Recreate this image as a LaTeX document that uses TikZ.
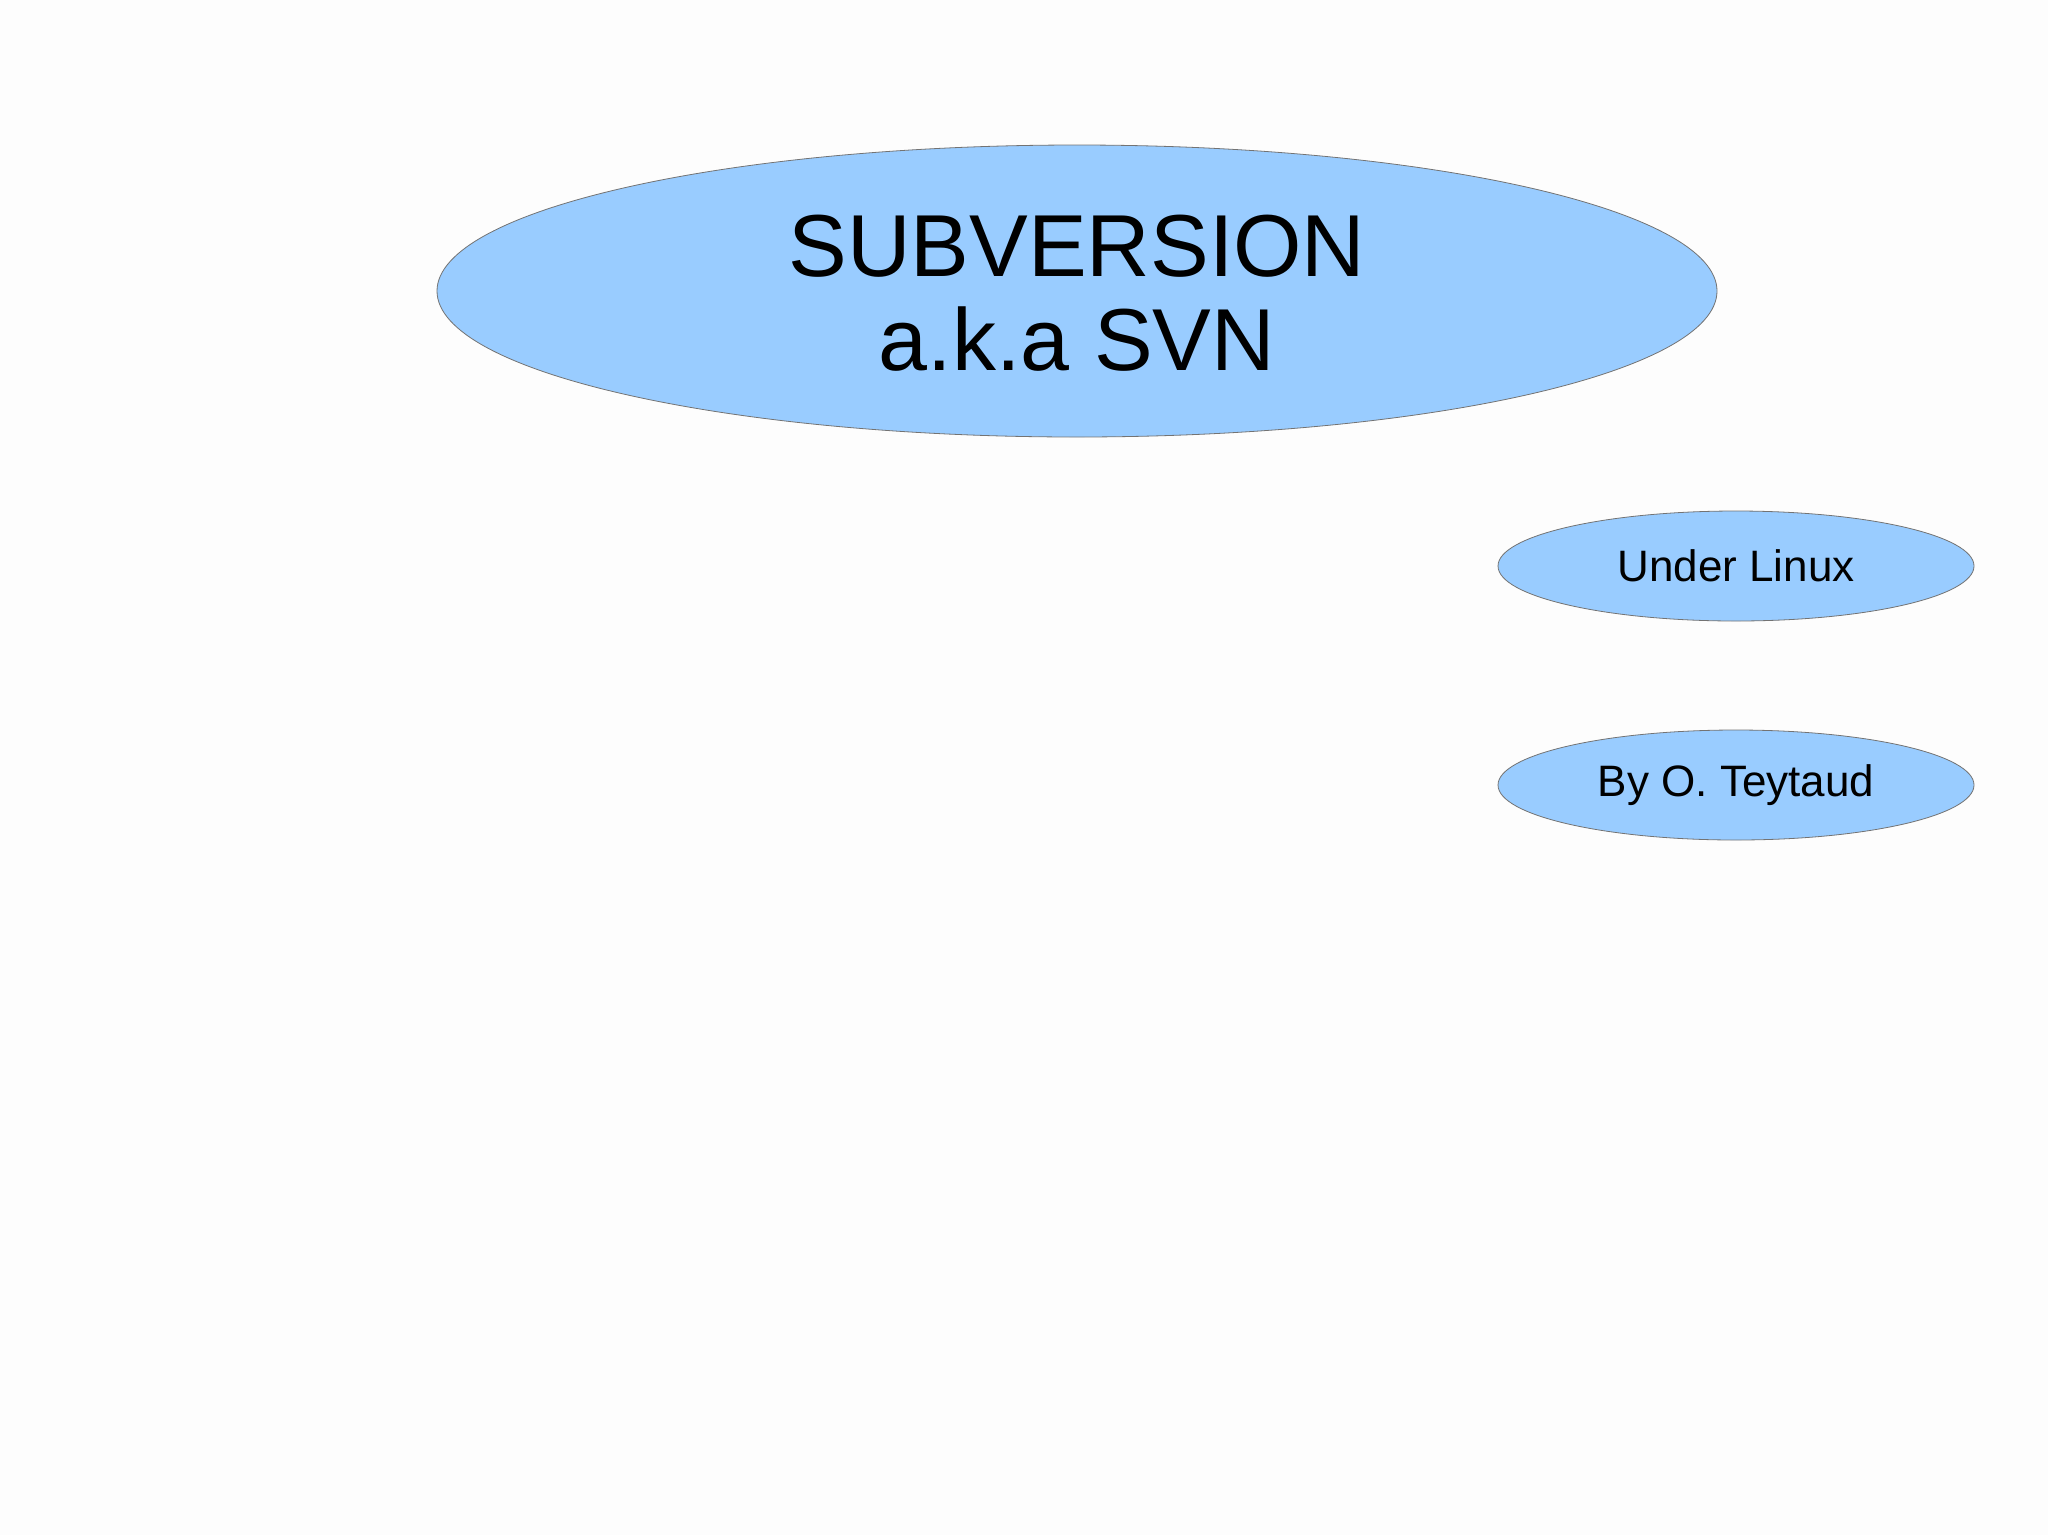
\documentclass[tikz,border=0pt]{standalone}
\usepackage{fontspec}
\setmainfont{Liberation Sans}
\definecolor{fillb}{HTML}{99CCFF}
\definecolor{bg}{HTML}{FDFDFD}
\begin{document}
\begin{tikzpicture}[x=1pt,y=-1pt,
  oval/.style={fill=fillb,draw=black!55,line width=0.8pt}]
\fill[bg] (0,0) rectangle (2048,1535);
\useasboundingbox (0,0) rectangle (2048,1535);
\draw[oval] (1077,291) ellipse [x radius=640, y radius=146];
\node[align=center,font=\fontsize{88}{94}\selectfont] (title) at (1077,293) {SUBVERSION\\a.k.a SVN};
\draw[oval] (1736,566) ellipse [x radius=238, y radius=55];
\node[font=\fontsize{44}{50}\selectfont] (linux) at (1736,566) {Under Linux};
\draw[oval] (1736,785) ellipse [x radius=238, y radius=55];
\node[font=\fontsize{44}{50}\selectfont] (by) at (1736,785) {By O. Teytaud};
\end{tikzpicture}
\end{document}
